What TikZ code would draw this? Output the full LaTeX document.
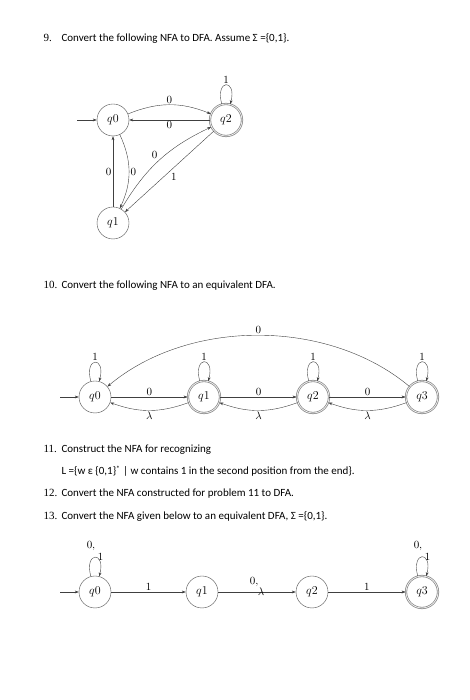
\documentclass[tikz,border=0pt]{standalone}
\usepackage{fontspec}
\setmainfont{Carlito}
\newfontfamily\numfont{Liberation Serif}
\usetikzlibrary{arrows.meta,positioning}
\tikzset{
  nfa/.style={circle,draw=black!70,thin,minimum size=32pt,inner sep=0pt,
    font=\fontsize{12}{14}\selectfont},
  final/.style={nfa,draw=black!45,line width=0.8pt,double=white,double distance=0.6pt},
  lbl/.style={font=\fontsize{11}{13}\selectfont,inner sep=1.5pt},
  txt/.style={anchor=base west,font=\fontsize{11}{13}\selectfont},
  num/.style={anchor=base west,font=\numfont\fontsize{11}{13}\selectfont},
  edge/.style={->,draw=black!75,thin}
}
\begin{document}
\begin{tikzpicture}[x=1pt,y=1pt,>={Stealth[length=4pt,width=2.8pt]},
  node distance=109pt,on grid]
  \useasboundingbox (0,0) rectangle (470,700);
  % problem 9
  \node[num] (n9) at (40,658) {9.};
  \node[txt] (t9) at (58,658) {Convert the following NFA to DFA. Assume Σ =\{0,1\}.};
  \node[nfa] (a0) at (113,580) {$q0$};
  \node[final,right=113pt of a0] (a2) {$q2$};
  \node[nfa,below=103pt of a0] (a1) {$q1$};
  \coordinate[left=36pt of a0] (a-in);
  \draw[edge] (a-in) -- (a0);
  \draw[edge] (a2) to[loop above] node[lbl,above] {$1$} (a2);
  \draw[edge] (a0) to[bend left=22] node[lbl,above] {$0$} (a2);
  \draw[edge] (a2) -- node[lbl,below] {$0$} (a0);
  \draw[edge] (a1) -- node[lbl,left] {$0$} (a0);
  \draw[edge] (a0) to[bend left=25] node[lbl,right] {$0$} (a1);
  \draw[edge] (a1) to[bend left=17] node[lbl,above left] {$0$} (a2);
  \draw[edge] (a2) -- node[lbl,below right] {$1$} (a1);
  % problem 10
  \node[num] (n10) at (40,411) {10.};
  \node[txt] (t10) at (58,411) {Convert the following NFA to an equivalent DFA.};
  \node[nfa] (b0) at (95,303) {$q0$};
  \node[final,right=of b0] (b1) {$q1$};
  \node[final,right=of b1] (b2) {$q2$};
  \node[final,right=of b2] (b3) {$q3$};
  \coordinate[left=35pt of b0] (b-in);
  \draw[edge] (b-in) -- (b0);
  \foreach \i in {0,...,3}
    \draw[edge] (b\i) to[loop above] node[lbl,above] {$1$} (b\i);
  \foreach \i/\j in {0/1,1/2,2/3} {
    \draw[edge] (b\i) -- node[lbl,above] {$0$} (b\j);
    \draw[edge] (b\j) to[bend left=20] node[lbl,below] {$\lambda$} (b\i);
  }
  \draw[edge] (b3) to[out=140,in=40,looseness=0.9] node[lbl,above] {$0$} (b0);
  % problems 11 to 13
  \node[num] (n11) at (40,247) {11.};
  \node[txt] (t11) at (58,247) {Construct the NFA for recognizing};
  \node[txt] (t11b) at (58,225) {L =\{w ε \{0,1\}\textsuperscript{*} | w contains 1 in the second position from the end\}.};
  \node[num] (n12) at (40,203) {12.};
  \node[txt] (t12) at (58,203) {Convert the NFA constructed for problem 11 to DFA.};
  \node[num] (n13) at (40,180) {13.};
  \node[txt] (t13) at (58,180) {Convert the NFA given below to an equivalent DFA, Σ =\{0,1\}.};
  \node[nfa] (c0) at (95,108) {$q0$};
  \node[nfa,right=107pt of c0] (c1) {$q1$};
  \node[nfa,right=110pt of c1] (c2) {$q2$};
  \node[final,right=110pt of c2] (c3) {$q3$};
  \coordinate[left=35pt of c0] (c-in);
  \draw[edge] (c-in) -- (c0);
  \foreach \i in {0,3}
    \draw[edge] (c\i) to[loop above] node[lbl,align=left,yshift=-5pt]
      {$0,$\\[-1pt]\hspace{11pt}$1$} (c\i);
  \draw[edge] (c0) -- node[lbl,above] {$1$} (c1);
  \draw[edge] (c1) -- node[lbl,align=left,yshift=5.5pt]
    {$0,$\\[-2pt]\hspace{8pt}$\lambda$} (c2);
  \draw[edge] (c2) -- node[lbl,above] {$1$} (c3);
\end{tikzpicture}
\end{document}
